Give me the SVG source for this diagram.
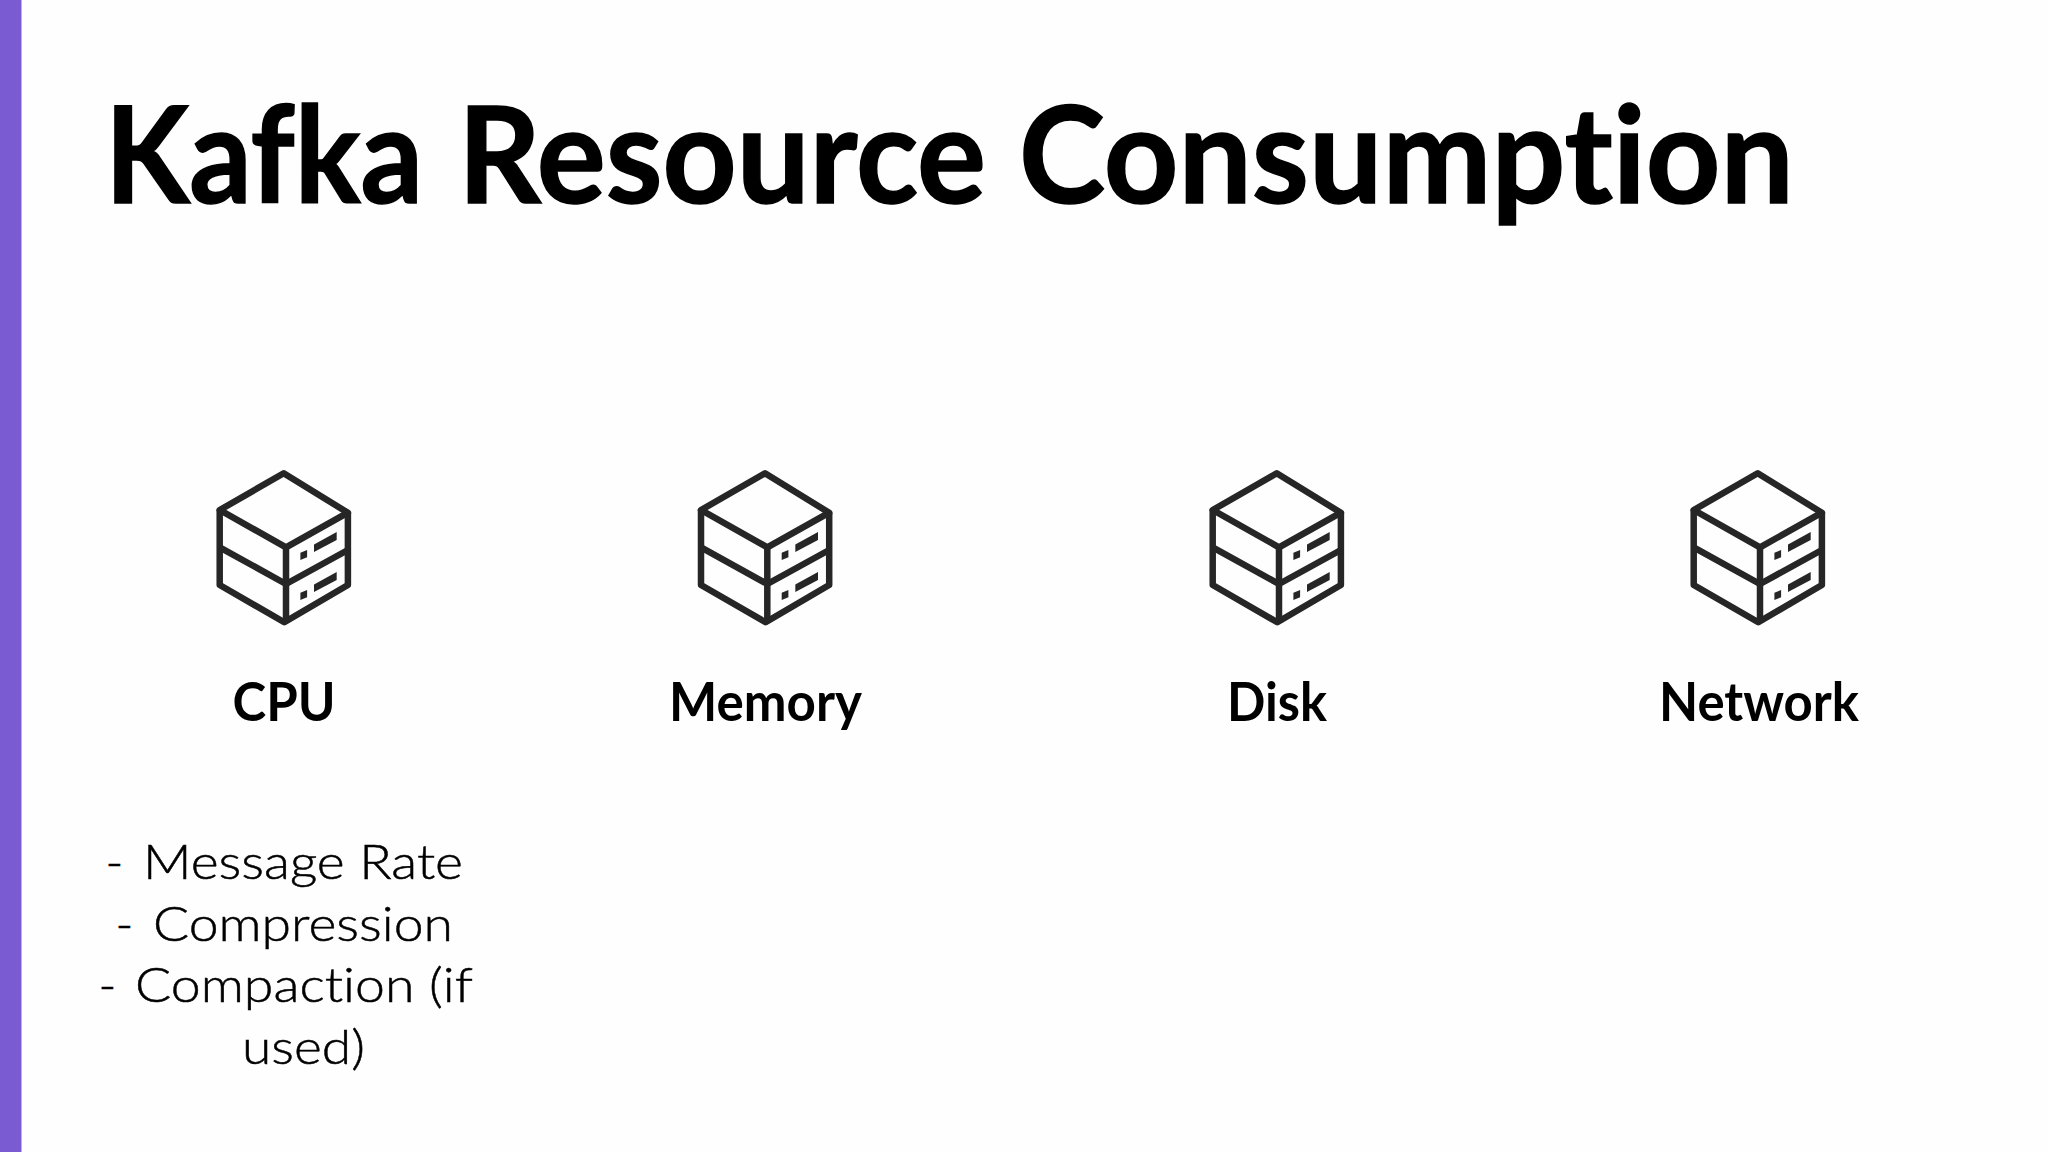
<svg xmlns="http://www.w3.org/2000/svg" width="2048" height="1152" viewBox="0 0 2048 1152">
<style>
text{font-family:"Lato","Open Sans","Liberation Sans",sans-serif;fill:#000;font-variant-ligatures:none}
.t{font-size:134px;font-weight:700;stroke:#000;stroke-width:1.5px}
.h{font-size:53px;font-weight:700}
.b{font-size:48px;font-weight:300;stroke:#000;stroke-width:.5px}
.i{fill:none;stroke:#262626;stroke-width:6.5px;stroke-linejoin:round}
.f{fill:#262626;stroke:none}
</style>
<defs>
<g id="srv">
<path class="i" d="M-1 -102.700 L-65 -66 L1.300 -28.700 L63.200 -63.300Z"/>
<path class="i" d="M-65 -66 V9 L-0.400 46.300 L63.200 9 V-63.300"/>
<path class="i" d="M-65 -28.700 L1.300 8 L63.200 -26"/>
<path class="i" d="M1.300 -28.700 V46.300"/>
<path class="f" d="M15.700 -23.300 L22.400 -26 V-18.700 L15.700 -16Z"/>
<path class="f" d="M29.300 -31.500 L52 -44 V-36 L29.300 -24Z"/>
<path class="f" d="M15.700 16.700 L22.400 14 V21.300 L15.700 24Z"/>
<path class="f" d="M29.300 8.500 L52 -4 V4 L29.300 16Z"/>
</g>
</defs>
<rect width="2048" height="1152" fill="#fefefe"/>
<rect id="bar" width="21.500" height="1152" fill="#7a5bd1"/>
<text id="title" class="t" y="203"><tspan x="105" textLength="318" lengthAdjust="spacingAndGlyphs">Kafka</tspan> <tspan x="458" textLength="528" lengthAdjust="spacingAndGlyphs">Resource</tspan> <tspan x="1019" textLength="775" lengthAdjust="spacingAndGlyphs">Consumption</tspan></text>
<g id="node-cpu">
<use href="#srv" x="284.700" y="576"/>
<text class="h" x="232.500" y="721" textLength="103" lengthAdjust="spacingAndGlyphs">CPU</text>
</g>
<g id="node-memory">
<use href="#srv" x="766" y="576"/>
<text class="h" x="669" y="721" textLength="193" lengthAdjust="spacingAndGlyphs">Memory</text>
</g>
<g id="node-disk">
<use href="#srv" x="1277.700" y="576"/>
<text class="h" x="1227" y="721" textLength="100" lengthAdjust="spacingAndGlyphs">Disk</text>
</g>
<g id="node-network">
<use href="#srv" x="1758.700" y="576"/>
<text class="h" x="1659" y="721" textLength="200" lengthAdjust="spacingAndGlyphs">Network</text>
</g>
<g id="cpu-list">
<text class="b" x="105.500" y="879">-</text><text class="b" x="143" y="879" textLength="320" lengthAdjust="spacingAndGlyphs">Message Rate</text>
<text class="b" x="115.500" y="940.500">-</text><text class="b" x="153" y="940.500" textLength="300" lengthAdjust="spacingAndGlyphs">Compression</text>
<text class="b" x="98.500" y="1002">-</text><text class="b" x="135" y="1002" textLength="338" lengthAdjust="spacingAndGlyphs">Compaction (if</text>
<text class="b" x="242" y="1063.500" textLength="123" lengthAdjust="spacingAndGlyphs">used)</text>
</g>
</svg>
